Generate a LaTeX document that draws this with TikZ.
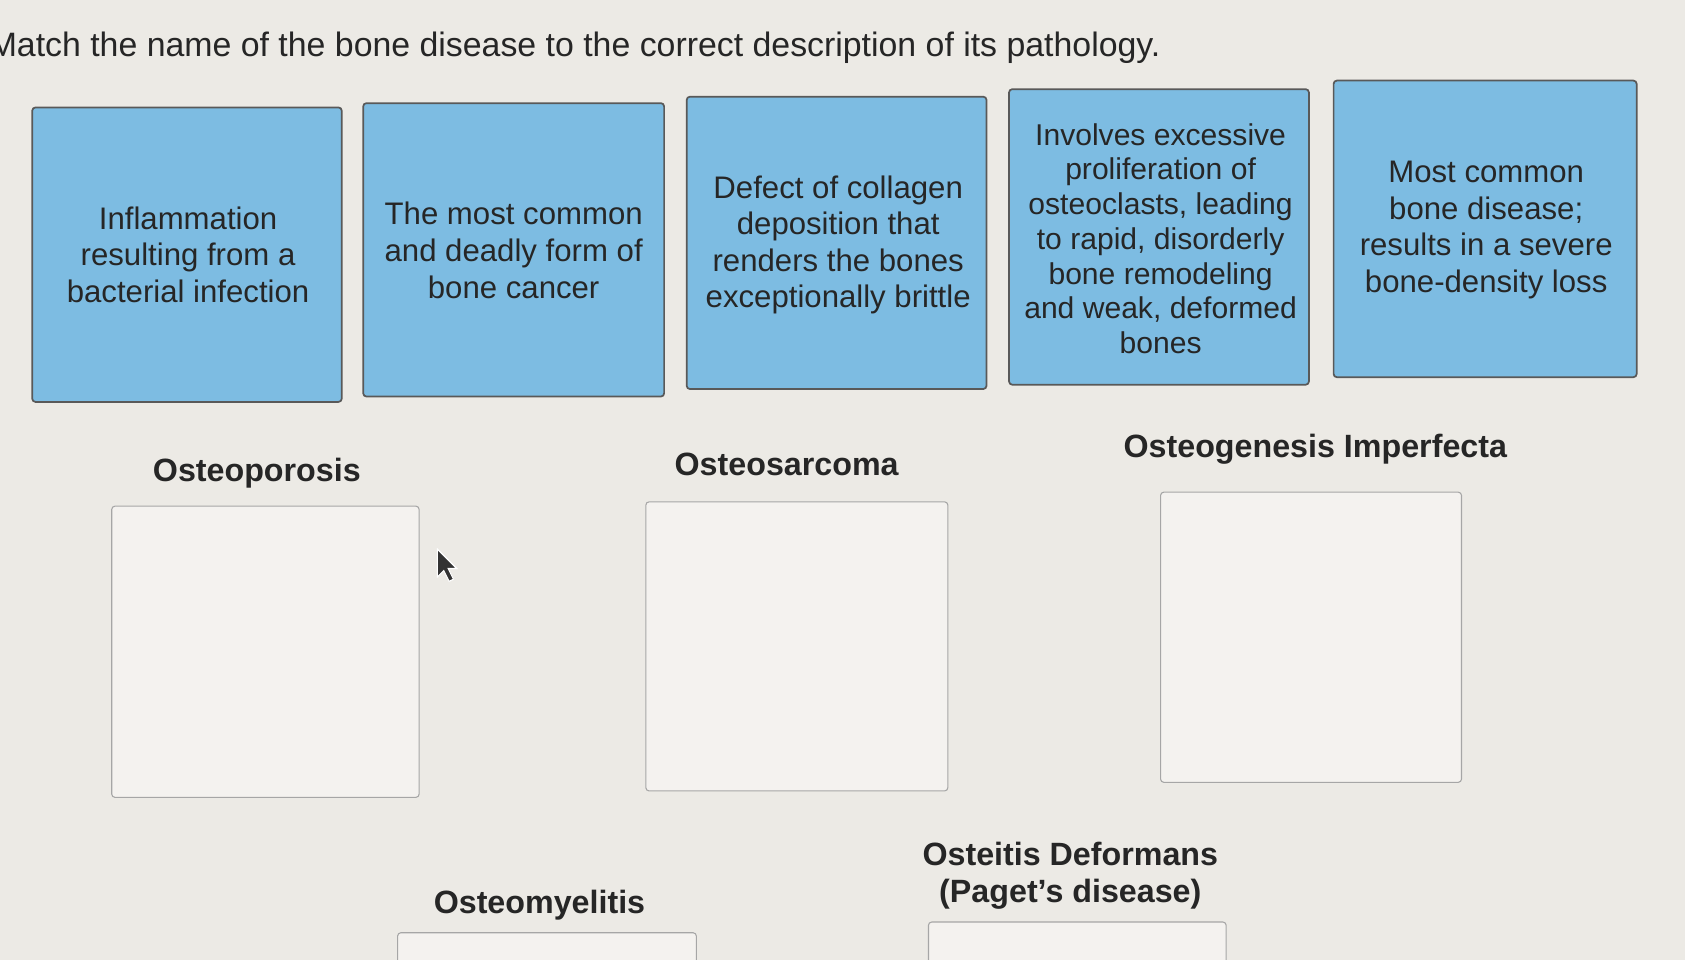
\documentclass[tikz,border=0pt]{standalone}
\usepackage{fontspec}
\setmainfont{Liberation Sans}
\begin{document}
\begin{tikzpicture}[x=1pt,y=-1pt,
  card/.style={draw=black!65,line width=1.6pt,fill=cardblue,rounded corners=3pt},
  slot/.style={draw=black!35,line width=1pt,fill=white!40!bgc,rounded corners=3pt},
  ctext/.style={align=center,font=\fontsize{29}{34}\selectfont,text=black!85},
  lab/.style={align=center,font=\bfseries\fontsize{30}{35}\selectfont,text=black!85}]
\definecolor{cardblue}{HTML}{7DBCE2}
\definecolor{bgc}{HTML}{ECEAE5}
\useasboundingbox (0,0) rectangle (1568,893);
\clip (0,0) rectangle (1568,893);
\fill[bgc] (0,0) rectangle (1568,893);
\node[anchor=west,font=\fontsize{31.5}{36}\selectfont,text=black!85] (title) at (-14,44) {Match the name of the bone disease to the correct description of its pathology.};
\draw[card] (30,100) rectangle (318,374);
\node[ctext] (c1) at (175,237) {Inflammation\\resulting from a\\bacterial infection};
\draw[card] (338,96) rectangle (618,369);
\node[ctext] (c2) at (478,233) {The most common\\and deadly form of\\bone cancer};
\draw[card] (639,90) rectangle (918,362);
\node[ctext] (c3) at (780,228) {Defect of collagen\\deposition that\\renders the bones\\exceptionally brittle};
\draw[card] (939,83) rectangle (1218,358);
\node[ctext,font=\fontsize{28}{32.3}\selectfont] (c4) at (1080,222) {Involves excessive\\proliferation of\\osteoclasts, leading\\to rapid, disorderly\\bone remodeling\\and weak, deformed\\bones};
\draw[card] (1241,75) rectangle (1523,351);
\node[ctext] (c5) at (1383,214) {Most common\\bone disease;\\results in a severe\\bone-density loss};
\node[lab] (l1) at (239,440) {Osteoporosis};
\node[lab] (l2) at (732,432) {Osteosarcoma};
\node[lab] (l3) at (1224,418) {Osteogenesis Imperfecta};
\node[lab] (l4) at (502,842) {Osteomyelitis};
\node[lab] (l5) at (996,815) {Osteitis Deformans\\(Paget{\char"27}s disease)};
\draw[slot] (104,471) rectangle (390,742);
\draw[slot] (601,467) rectangle (882,736);
\draw[slot] (1080,458) rectangle (1360,728);
\draw[slot] (370,868) rectangle (648,900);
\draw[slot] (864,858) rectangle (1141,900);
\fill[black!80,draw=white,line width=1pt] (407,511) -- (407,537) -- (413,531) -- (418,541) -- (422,539) -- (417,529) -- (425,529) -- cycle;
\end{tikzpicture}
\end{document}
